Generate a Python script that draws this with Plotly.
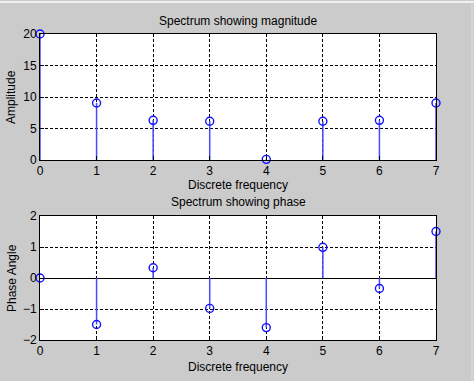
import plotly.graph_objects as go

freq = [0, 1, 2, 3, 4, 5, 6, 7]
magnitude = [20.0, 9.05, 6.3, 6.15, 0.1, 6.15, 6.3, 9.05]
phase = [0.0, -1.5, 0.33, -0.98, -1.6, 0.99, -0.34, 1.5]
x_ticks = [0, 1, 2, 3, 4, 5, 6, 7]
mag_ticks = [0, 5, 10, 15, 20]
phase_ticks = [-2, -1, 0, 1, 2]

W, H = 474, 381
ML, MR, MT, MB = 40, 38, 34, 41
ph = H - MT - MB

def stem_xy(xs, ys):
    sx, sy = [], []
    for x, y in zip(xs, ys):
        sx += [x, x, None]
        sy += [0, y, None]
    return sx, sy

fig = go.Figure()
STEM = "#4a4aff"
MARK = "#1010ff"

for vals, xa, ya in [(magnitude, "x", "y"), (phase, "x2", "y2")]:
    sx, sy = stem_xy(freq, vals)
    fig.add_trace(go.Scatter(x=sx, y=sy, mode="lines", xaxis=xa, yaxis=ya,
                             line=dict(color=STEM, width=1.5), hoverinfo="skip",
                             showlegend=False, cliponaxis=False))
    fig.add_trace(go.Scatter(x=freq, y=vals, mode="markers", xaxis=xa, yaxis=ya,
                             marker=dict(symbol="circle-open", size=8,
                                         color=MARK, line=dict(width=1.4)),
                             showlegend=False, cliponaxis=False))

font = dict(family="Liberation Sans, Arial, sans-serif", size=12, color="black")

common_x = dict(range=[0, 7], tickvals=x_ticks, showgrid=True, gridcolor="black",
                griddash="3px,2px", gridwidth=1, showline=True, linecolor="black",
                linewidth=1, mirror=True, ticks="inside", ticklen=4,
                tickcolor="black", zeroline=False, tickfont=font)
common_y = dict(showgrid=True, gridcolor="black", griddash="3px,2px", gridwidth=1,
                showline=True, linecolor="black", linewidth=1, mirror=True,
                ticks="inside", ticklen=4, tickcolor="black", tickfont=font)

top_lo = (H - MB - 160) / ph
bot_hi = (H - MB - 216) / ph

fig.update_layout(
    width=W, height=H,
    margin=dict(l=ML, r=MR, t=MT, b=MB),
    paper_bgcolor="#cbcbcb", plot_bgcolor="white",
    font=font,
    xaxis=dict(common_x, domain=[0, 1], anchor="y"),
    yaxis=dict(common_y, domain=[top_lo, 1], range=[0, 20], tickvals=mag_ticks,
               zeroline=False, anchor="x"),
    xaxis2=dict(common_x, domain=[0, 1], anchor="y2"),
    yaxis2=dict(common_y, domain=[0, bot_hi], range=[-2, 2], tickvals=phase_ticks,
                zeroline=True, zerolinecolor="black", zerolinewidth=1, anchor="x2"),
    shapes=[
        dict(type="line", xref="paper", yref="paper", x0=-ML / (W - ML - MR),
             x1=1 + MR / (W - ML - MR), y0=1 + (MT - 2) / ph, y1=1 + (MT - 2) / ph,
             line=dict(color="#f0f0f0", width=2)),
        dict(type="line", xref="paper", yref="paper", x0=1 + (MR - 2) / (W - ML - MR),
             x1=1 + (MR - 2) / (W - ML - MR), y0=-MB / ph, y1=1 + (MT - 3) / ph,
             line=dict(color="#dedede", width=1)),
    ],
    annotations=[
        dict(text="Spectrum showing magnitude", xref="paper", yref="paper",
             x=0.5, y=1 + (MT - 21) / ph, showarrow=False, font=font,
             xanchor="center", yanchor="middle"),
        dict(text="Discrete frequency", xref="paper", yref="paper",
             x=0.5, y=(H - MB - 185) / ph, showarrow=False, font=font,
             xanchor="center", yanchor="middle"),
        dict(text="Amplitude", xref="paper", yref="paper",
             x=-(ML - 11) / (W - ML - MR), y=(H - MB - 97) / ph, showarrow=False,
             font=font, textangle=-90, xanchor="center", yanchor="middle"),
        dict(text="Spectrum showing phase", xref="paper", yref="paper",
             x=0.5, y=(H - MB - 202) / ph, showarrow=False, font=font,
             xanchor="center", yanchor="middle"),
        dict(text="Discrete frequency", xref="paper", yref="paper",
             x=0.5, y=(H - MB - 367) / ph, showarrow=False, font=font,
             xanchor="center", yanchor="middle"),
        dict(text="Phase Angle", xref="paper", yref="paper",
             x=-(ML - 12) / (W - ML - MR), y=(H - MB - 278) / ph, showarrow=False,
             font=font, textangle=-90, xanchor="center", yanchor="middle"),
    ],
)

fig.write_html(
    "out.html",
    config={"displayModeBar": False},
    post_script="document.body.style.margin='0';document.body.style.overflow='hidden';",
)
